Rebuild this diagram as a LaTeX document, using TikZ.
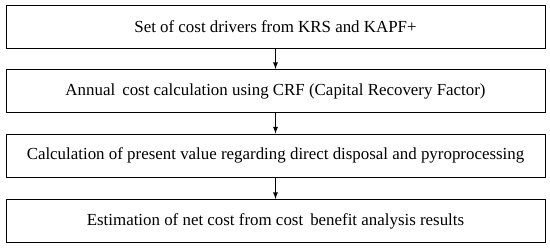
\documentclass[tikz,border=0pt]{standalone}
\usepackage{fontspec}
\setmainfont{Liberation Serif}
\usetikzlibrary{positioning}
\begin{document}
\begin{tikzpicture}[
    x=1pt, y=-1pt,
    >=latex,
    stepbox/.style={draw, line width=1pt, minimum width=539pt, minimum height=43pt, align=center, font=\fontsize{16.9}{20}\selectfont},
    flow/.style={line width=1.3pt, ->}
    ]

    \useasboundingbox (0, 0) rectangle (550, 249);

    % Boxes
    \node[stepbox] (s1) at (275.5, 26.5) {Set of cost drivers from KRS and KAPF+};
    \node[stepbox] (s2) at (275.5, 91) {Annual\, cost calculation using CRF (Capital Recovery Factor)};
    \node[stepbox] (s3) at (275.5, 155.5) {Calculation of present value regarding direct disposal and pyroprocessing};
    \node[stepbox] (s4) at (275.5, 221) {Estimation of net cost from cost\, benefit analysis results};

    % Connections between steps
    \draw [flow] (s1.south) -- (s2.north);
    \draw [flow] (s2.south) -- (s3.north);
    \draw [flow] (s3.south) -- (s4.north);

\end{tikzpicture}
\end{document}
